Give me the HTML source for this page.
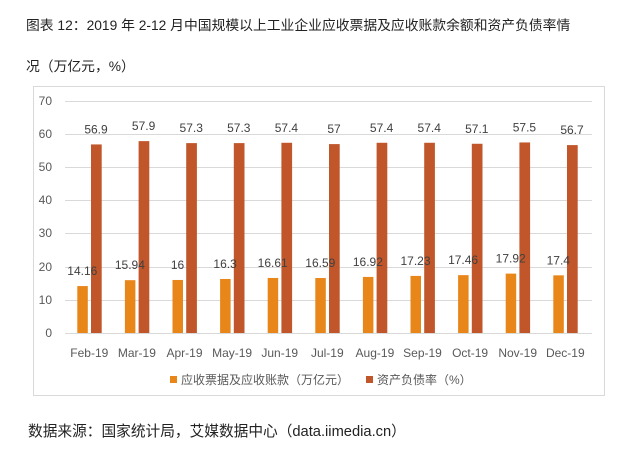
<!DOCTYPE html>
<html><head><meta charset="utf-8"><style>
body{margin:0;width:640px;height:452px;background:#fff;font-family:"Liberation Sans","Noto Sans CJK SC",sans-serif;position:relative;overflow:hidden}
.t{position:absolute;left:26px;font-size:13.8px;color:#222}
</style></head><body>
<div class="t" style="top:14px">图表 12：2019 年 2-12 月中国规模以上工业企业应收票据及应收账款余额和资产负债率情</div>
<div class="t" style="top:55px">况（万亿元，%）</div>
<svg width="640" height="452" style="position:absolute;left:0;top:0" font-family="Liberation Sans, Noto Sans CJK SC, sans-serif">
<rect x="33.5" y="86.5" width="571" height="309" fill="none" stroke="#d9d9d9"/>
<g stroke="#d9d9d9" stroke-width="1">
<line x1="65" x2="592" y1="101.5" y2="101.5"/><line x1="65" x2="592" y1="134.5" y2="134.5"/><line x1="65" x2="592" y1="167.5" y2="167.5"/><line x1="65" x2="592" y1="200.5" y2="200.5"/><line x1="65" x2="592" y1="233.5" y2="233.5"/><line x1="65" x2="592" y1="267.5" y2="267.5"/><line x1="65" x2="592" y1="300.5" y2="300.5"/><line x1="65" x2="592" y1="333.5" y2="333.5"/>
</g>
<g font-size="12" fill="#595959" text-anchor="end">
<text x="52" y="105">70</text><text x="52" y="138">60</text><text x="52" y="171">50</text><text x="52" y="204">40</text><text x="52" y="237">30</text><text x="52" y="271">20</text><text x="52" y="304">10</text><text x="52" y="337">0</text>
</g>
<g id="bars"></g>
<g font-size="12" fill="#595959" text-anchor="middle" id="xl"></g>
<rect x="170" y="376" width="7" height="7" fill="#e8861a"/>
<text x="181" y="384" font-size="12" fill="#595959">应收票据及应收账款（万亿元）</text>
<rect x="366" y="376" width="7" height="7" fill="#c0562a"/>
<text x="377" y="384" font-size="12" fill="#595959">资产负债率（%）</text>
</svg>
<div class="t" style="top:420px;left:28px;font-size:14.7px">数据来源：国家统计局，艾媒数据中心（data.iimedia.cn）</div>
<script>
var a=[14.16,15.94,16,16.3,16.61,16.59,16.92,17.23,17.46,17.92,17.4],b=[56.9,57.9,57.3,57.3,57.4,57,57.4,57.4,57.1,57.5,56.7];
var m=["Feb-19","Mar-19","Apr-19","May-19","Jun-19","Jul-19","Aug-19","Sep-19","Oct-19","Nov-19","Dec-19"];
var s="",x="",k=3.314,z=333;
for(var i=0;i<11;i++){var o=77.3+i*47.6,r=o+13.7;
s+='<rect x="'+o+'" y="'+(z-a[i]*k)+'" width="10.5" height="'+a[i]*k+'" fill="#e8861a"/>';
s+='<rect x="'+r+'" y="'+(z-b[i]*k)+'" width="10.7" height="'+b[i]*k+'" fill="#c0562a"/>';
s+='<text x="'+(o+5)+'" y="'+(z-a[i]*k-11)+'" font-size="12" fill="#404040" text-anchor="middle">'+a[i]+'</text>';
s+='<text x="'+(r+5)+'" y="'+(z-b[i]*k-11)+'" font-size="12" fill="#404040" text-anchor="middle">'+b[i]+'</text>';
x+='<text x="'+(o+12)+'" y="357">'+m[i]+'</text>';}
document.getElementById("bars").innerHTML=s;document.getElementById("xl").innerHTML=x;
</script>
</body></html>
